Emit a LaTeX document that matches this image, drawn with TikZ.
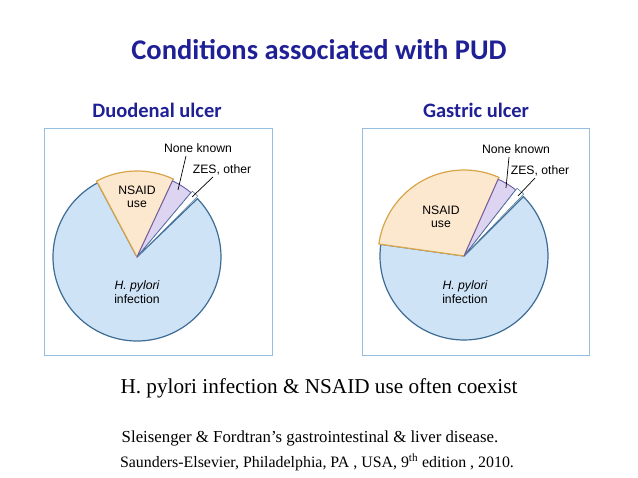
\documentclass[tikz,border=0pt]{standalone}
\usepackage{fontspec}
\setmainfont{Liberation Serif}
\newfontfamily\carl{Carlito}
\newfontfamily\ars{Liberation Sans}
\begin{document}
\begin{tikzpicture}[x=1pt,y=1pt,
  hp/.style={fill={rgb,255:red,207;green,227;blue,247},draw={rgb,255:red,61;green,108;blue,148},line width=1.2pt,line join=round},
  ns/.style={fill={rgb,255:red,251;green,232;blue,207},draw={rgb,255:red,217;green,165;blue,74},line width=1.2pt,line join=round},
  nk/.style={fill={rgb,255:red,220;green,212;blue,240},draw={rgb,255:red,108;green,90;blue,168},line width=0.9pt,line join=round},
  zs/.style={fill=white,draw={rgb,255:red,61;green,108;blue,148},line width=0.5pt},
  panel/.style={draw={rgb,255:red,150;green,190;blue,225},line width=0.8pt},
  lab/.style={font=\ars\fontsize{12.2}{13.5}\selectfont,align=center,inner sep=0pt},
  hdr/.style={font=\carl\bfseries\fontsize{20.5}{24}\selectfont,text={rgb,255:red,32;green,32;blue,150}},
  lead/.style={line width=0.7pt}]
\useasboundingbox (0,0) rectangle (638,478);
\node[hdr,font=\carl\bfseries\fontsize{28.5}{32}\selectfont] (title) at (319,428) {Conditions associated with PUD};
\node[hdr] (h1) at (157,368) {Duodenal ulcer};
\node[hdr] (h2) at (476,368) {Gastric ulcer};
\node[minimum width=228,minimum height=227,panel] (p1) at (158,236.5) {};
\node[minimum width=227,minimum height=227,panel] (p2) at (475.5,236.5) {};
% left pie
\coordinate (c1) at (137,221);
\draw[hp] (c1) -- ++(118:84) arc[start angle=118,end angle=404,radius=84] -- cycle;
\draw[ns] (c1) -- ++(65:86) arc[start angle=65,end angle=118,radius=86] -- cycle;
\draw[nk] (c1) -- ++(50:84) arc[start angle=50,end angle=65,radius=84] -- cycle;
\draw[zs] ([shift={(47:2)}]c1) -- ++(45:84) arc[start angle=45,end angle=50,radius=84] -- cycle;
\node[lab] (n1) at (137,281) {NSAID\\use};
\node[lab] (hp1) at (137,186) {\itshape H. pylori\\infection};
\node[lab] (nk1) at (198,330) {None known};
\node[lab] (z1) at (222,308) {ZES, other};
\coordinate (nk1e) at (178,288);
\coordinate (z1e) at (192,281);
\draw[lead] (186,322) -- (nk1e);
\draw[lead] (213,301) -- (z1e);
% right pie
\coordinate (c2) at (464,222);
\draw[hp] (c2) -- ++(172:84) arc[start angle=172,end angle=405,radius=84] -- cycle;
\draw[ns] (c2) -- ++(66:86) arc[start angle=66,end angle=172,radius=86] -- cycle;
\draw[nk] (c2) -- ++(52:84) arc[start angle=52,end angle=66,radius=84] -- cycle;
\draw[zs] ([shift={(48:2)}]c2) -- ++(46:84) arc[start angle=46,end angle=52,radius=84] -- cycle;
\node[lab] (n2) at (441,261) {NSAID\\use};
\node[lab] (hp2) at (465,186) {\itshape H. pylori\\infection};
\node[lab] (nk2) at (516,329) {None known};
\node[lab] (z2) at (540,307) {ZES, other};
\coordinate (nk2e) at (506,290);
\coordinate (z2e) at (518,282);
\draw[lead] (509,321) -- (nk2e);
\draw[lead] (535,300) -- (z2e);
% texts
\node[font=\fontsize{21.2}{24}\selectfont] (co) at (319,90) {H. pylori infection \& NSAID use often coexist};
\node[font=\fontsize{16.8}{19}\selectfont] (r1) at (310,40) {Sleisenger \& Fordtran’s gastrointestinal \& liver disease.};
\node[font=\fontsize{15.9}{19}\selectfont] (r2) at (317,16) {Saunders-Elsevier, Philadelphia, PA , USA, 9\textsuperscript{th} edition , 2010.};
\end{tikzpicture}
\end{document}
